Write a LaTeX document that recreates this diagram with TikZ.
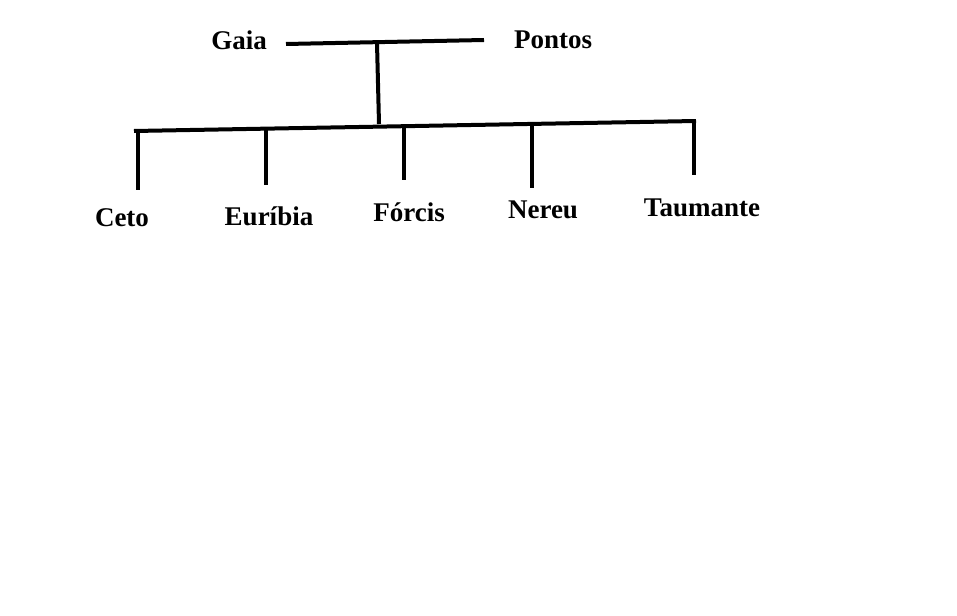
\documentclass[tikz,border=0pt]{standalone}
\usepackage{fontspec}
\setmainfont{Liberation Serif}
\begin{document}
\begin{tikzpicture}[x=1pt,y=-1pt,
  lbl/.style={font=\bfseries\fontsize{27}{30}\selectfont,inner sep=0pt},
  ln/.style={line width=4pt}]
\useasboundingbox[fill=white] (0,0) rectangle (957,615);
\node[lbl] (gaia) at (239,40) {Gaia};
\node[lbl] (pontos) at (553,40) {Pontos};
\node[lbl] (ceto) at (122,218) {Ceto};
\node[lbl] (euribia) at (269,216) {Euríbia};
\node[lbl] (forcis) at (409,212) {Fórcis};
\node[lbl] (nereu) at (543,210) {Nereu};
\node[lbl] (taumante) at (702,208) {Taumante};
\coordinate (t1) at (286,44);
\coordinate (t2) at (484,40);
\coordinate (m1) at (377,43);
\coordinate (m2) at (379,124);
\coordinate (b1) at (134,131);
\coordinate (b2) at (696,121);
\coordinate (d1) at (138,131);
\coordinate (d2) at (266,129);
\coordinate (d3) at (404,127);
\coordinate (d4) at (532,125);
\coordinate (d5) at (694,121);
\draw[ln] (t1) -- (t2);
\draw[ln] (m1) -- (m2);
\draw[ln] (b1) -- (b2);
\draw[ln] (d1) -- (138,190);
\draw[ln] (d2) -- (266,185);
\draw[ln] (d3) -- (404,180);
\draw[ln] (d4) -- (532,188);
\draw[ln] (d5) -- (694,175);
\end{tikzpicture}
\end{document}
